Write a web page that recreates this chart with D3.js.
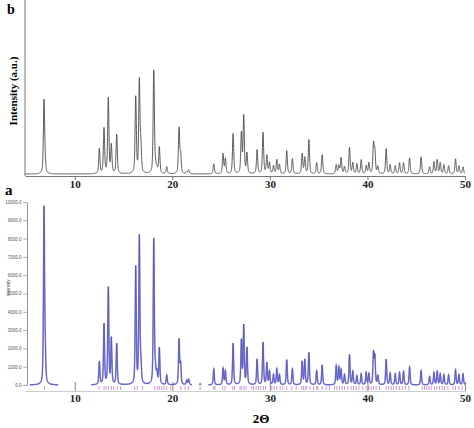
<!DOCTYPE html>
<html>
<head>
<meta charset="utf-8">
<script src="https://cdn.jsdelivr.net/npm/d3@7"></script>
<style>
  body { margin: 0; background: #fff; }
  svg { display: block; }
</style>
</head>
<body>
<script>
// chart size
var width  = 474;
var height = 428;

// peak positions (2theta)
var peakPos = [6.85, 6.97, 12.52, 13.0, 13.44, 13.75, 14.3, 16.25, 16.62, 16.78,
  18.1, 18.27, 18.42, 18.67, 19.43, 20.69, 20.85, 21.48, 21.68, 22.85,
  24.25, 25.2, 25.44, 26.23, 27.08, 27.32, 27.65, 28.69, 29.3, 29.69,
  29.96, 30.37, 30.71, 30.98, 31.73, 32.31, 33.31, 33.58, 34.0, 34.8,
  35.36, 36.8, 37.07, 37.3, 37.65, 38.16, 38.5, 38.92, 39.36, 39.87,
  40.15, 40.62, 40.76, 41.07, 41.92, 42.33, 42.85, 43.29, 43.7, 44.32,
  45.5, 46.37, 46.82, 47.15, 47.46, 47.84, 48.32, 49.03, 49.38, 49.8];

// b: measured pattern, arbitrary units
var heightB = [73, 8, 25, 45, 75, 28, 39, 76, 92, 25,
  103, 6, 5, 26, 7, 45, 18, 2, 4, 0,
  10, 20, 15, 40, 40, 57, 20, 24, 41, 18,
  11, 8, 14, 9, 23, 15, 20, 16, 34, 11,
  19, 9, 8, 16, 7, 26, 11, 10, 14, 8,
  11, 29, 22, 7, 25, 9, 8, 11, 11, 16,
  17, 7, 12, 14, 11, 9, 8, 15, 8, 7];

// a: calculated pattern, counts
var heightA = [9550, 1500, 1250, 3300, 5280, 2500, 2250, 6400, 8050, 1000,
  7950, 700, 600, 1980, 530, 2460, 1100, 250, 300, 60,
  870, 900, 760, 2270, 2400, 3200, 2000, 1400, 2310, 1180,
  730, 550, 860, 550, 1370, 870, 1270, 1370, 1760, 760,
  1090, 1040, 950, 820, 550, 1640, 730, 490, 600, 670,
  600, 1700, 1500, 490, 1400, 640, 600, 670, 730, 970,
  780, 450, 670, 730, 600, 550, 550, 820, 550, 600];

// 2theta ranges where pattern a is drawn
var drawnA = [[5.4, 8.3], [11.7, 22.0], [22.75, 22.95], [23.7, 50]];

// reflection marks under pattern a
var reflections = [6.91, 12.49, 13.0, 13.2, 13.44, 13.75, 14.0, 14.37, 14.7, 16.15,
  16.42, 16.93, 18.2, 18.47, 18.67, 18.92, 19.15, 19.43, 19.84, 20.87,
  21.31, 21.65, 22.85, 24.21, 24.38, 25.17, 25.41, 26.2, 26.37, 26.95,
  27.12, 27.36, 27.56, 28.15, 28.32, 28.59, 28.83, 29.07, 29.34, 29.55,
  30.2, 30.44, 30.71, 31.05, 31.33, 31.73, 32.25, 32.69, 33.27, 33.44,
  33.62, 33.79, 34.13, 34.47, 34.81, 34.91, 35.36, 35.77, 36.11, 36.62,
  36.86, 37.13, 37.41, 37.65, 37.99, 38.33, 38.57, 38.84, 39.12, 39.53,
  39.87, 40.14, 40.38, 40.62, 40.89, 41.24, 41.92, 42.19, 42.43, 42.67,
  42.95, 43.29, 43.56, 43.9, 44.24, 45.61, 45.85, 46.09, 46.3, 46.53,
  46.88, 47.12, 47.39, 47.66, 47.9, 48.24, 48.76, 49.03, 49.37, 49.71];

var xTicks = [10, 20, 30, 40, 50];
var yTicksA = [0, 1000, 2000, 3000, 4000, 5000, 6000, 7000, 8000, 9000, 10000];

// peak shape (pseudo-Voigt)
function profile(t, t0, fwhm) {
  var d = (t - t0) / fwhm;
  return 0.5 / (1 + 4 * d * d) + 0.5 * Math.exp(-4 * Math.LN2 * d * d);
}
function pattern(t, heights, fwhm) {
  var s = 0;
  for (var i = 0; i < peakPos.length; i++) {
    if (Math.abs(t - peakPos[i]) < 6) s += heights[i] * profile(t, peakPos[i], fwhm);
  }
  return s;
}

var svg = d3.select("body").append("svg")
  .attr("width", width)
  .attr("height", height);

var x = d3.scaleLinear().domain([4.9, 50]).range([25, 465]);

var serif = "'Liberation Serif', 'Times New Roman', serif";

//////////////////
// Panel b (top) //
//////////////////
var yB = d3.scaleLinear().domain([0, 176]).range([176, 0]);
var gridB = d3.range(4.9, 50.0001, 0.01);

svg.append("path")
  .datum(gridB)
  .attr("fill", "none")
  .attr("stroke", "#4a4a4a")
  .attr("stroke-width", 0.9)
  .attr("d", d3.line()
    .x(function(t) { return x(t); })
    .y(function(t) { return yB(2 + pattern(t, heightB, 0.15)); }));

svg.append("line")
  .attr("x1", 25).attr("x2", 25).attr("y1", 0).attr("y2", 176)
  .attr("stroke", "#777").attr("stroke-width", 1);

var axB = svg.append("g")
  .attr("transform", "translate(0,176)")
  .call(d3.axisBottom(x).tickValues(xTicks).tickSizeInner(4).tickSizeOuter(0).tickPadding(0));
axB.select(".domain").attr("stroke", "#777");
axB.selectAll(".tick line").attr("stroke", "#777");
axB.selectAll("text")
  .style("font-family", serif).style("font-weight", "bold").style("font-size", "11px").attr("fill", "#222");

svg.append("text")
  .attr("x", 7).attr("y", 14)
  .style("font-family", serif).style("font-weight", "bold").style("font-size", "14px")
  .text("b");

svg.append("text")
  .attr("transform", "translate(17,91) rotate(-90)")
  .attr("text-anchor", "middle")
  .style("font-family", serif).style("font-weight", "bold").style("font-size", "11px")
  .text("Intensity (a.u.)");

/////////////////////
// Panel a (bottom) //
/////////////////////
var yA = d3.scaleLinear().domain([0, 10000]).range([385, 202]);

drawnA.forEach(function(r) {
  var grid = d3.range(r[0], r[1] + 0.0001, 0.01);
  var line = d3.line()
    .x(function(t) { return x(t); })
    .y(function(t) { return yA(pattern(t, heightA, 0.13)); });
  svg.append("path").datum(grid)
    .attr("fill", "none").attr("stroke", "#8787e0").attr("stroke-width", 1.5)
    .attr("d", line);
  svg.append("path").datum(grid)
    .attr("fill", "none").attr("stroke", "#3a3aa6").attr("stroke-width", 0.5)
    .attr("d", line);
});

svg.append("g").selectAll("line")
  .data(reflections)
  .join("line")
  .attr("x1", function(d) { return x(d); })
  .attr("x2", function(d) { return x(d); })
  .attr("y1", 386).attr("y2", 390)
  .attr("stroke", "#c07ccc").attr("stroke-width", 0.8);

var axA = svg.append("g")
  .attr("transform", "translate(0,391)")
  .call(d3.axisBottom(x).tickValues(xTicks).tickSizeInner(-9).tickSizeOuter(0).tickPadding(3));
axA.select(".domain").attr("stroke", "#aaa").attr("stroke-width", 0.6);
axA.selectAll(".tick line").attr("stroke", "#666").attr("stroke-width", 0.8);
axA.selectAll("text")
  .style("font-family", serif).style("font-weight", "bold").style("font-size", "11px").attr("fill", "#222");

var ayA = svg.append("g")
  .attr("transform", "translate(27,0)")
  .call(d3.axisLeft(yA).tickValues(yTicksA).tickFormat(d3.format(".1f")).tickSizeInner(4).tickSizeOuter(0).tickPadding(1.5));
ayA.select(".domain").attr("stroke", "#777").attr("stroke-width", 0.8);
ayA.selectAll(".tick line").attr("stroke", "#777").attr("stroke-width", 0.6);
ayA.selectAll("text")
  .style("font-family", "'Liberation Sans', Arial, sans-serif").style("font-size", "4.5px").attr("fill", "#555");

svg.append("text")
  .attr("transform", "translate(10,288) rotate(-90)")
  .attr("text-anchor", "middle")
  .style("font-family", "'Liberation Sans', Arial, sans-serif").style("font-size", "4.5px").attr("fill", "#555")
  .text("Intensity");

svg.append("text")
  .attr("x", 5).attr("y", 195)
  .style("font-family", serif).style("font-weight", "bold").style("font-size", "15px")
  .text("a");

svg.append("text")
  .attr("x", 261).attr("y", 423)
  .attr("text-anchor", "middle")
  .style("font-family", serif).style("font-weight", "bold").style("font-size", "13px")
  .text("2Θ");
</script>
</body>
</html>
